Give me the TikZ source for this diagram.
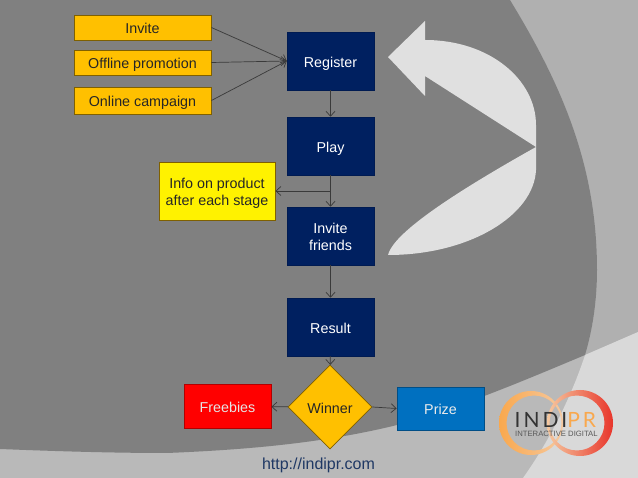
\documentclass[tikz,border=0pt]{standalone}
\usepackage{fontspec}
\setmainfont{Liberation Sans}
\newfontfamily\logofont[LetterSpace=14]{Lato}
\usetikzlibrary{arrows.meta,shapes.geometric}
\definecolor{darkbg}{HTML}{808080}
\definecolor{bandbg}{HTML}{B0B0B0}
\definecolor{stripbg}{HTML}{B9B9B9}
\definecolor{lightbg}{HTML}{D9D9D9}
\definecolor{swoosh}{HTML}{E0E0E0}
\definecolor{navy}{HTML}{002060}
\definecolor{amber}{HTML}{FFC000}
\definecolor{amberline}{HTML}{7F6000}
\definecolor{prizeblue}{HTML}{0070C0}
\definecolor{urlblue}{HTML}{1F3864}
\definecolor{conn}{HTML}{3A3A3A}
\definecolor{logoorange}{HTML}{F9A84D}
\definecolor{logored}{HTML}{E8352B}
\definecolor{logopale}{HTML}{F6C9A0}
\tikzset{
  basebox/.style={rectangle,inner sep=0pt,align=center,font=\fontsize{14.3}{17}\selectfont},
  oneline/.style={text height=15pt,text depth=2.5pt},
  darkbox/.style={basebox,fill=navy,draw=navy!85!black,line width=0.5pt,text=white,minimum width=87pt,minimum height=58pt},
  inputbox/.style={basebox,oneline,fill=amber,draw=amberline,line width=0.8pt,text=black!85,minimum width=137pt},
  link/.style={draw=conn,line width=0.7pt,-{Straight Barb[length=5pt,width=9pt]}},
}
\begin{document}
\begin{tikzpicture}[x=1pt,y=-1pt]
\useasboundingbox (0,0) rectangle (638,478);
% background
\fill[stripbg] (0,0) rectangle (638,478);
\fill[bandbg] (510,0) -- (638,0) -- (638,332) -- (585,355) .. controls (594,325) and (597,295) .. (597,270) .. controls (597,170) and (565,90) .. (510,0) -- cycle;
\fill[lightbg] (638,332) -- (638,478) -- (523,478) .. controls (550,440) and (572,395) .. (585,355) -- cycle;
\fill[darkbg] (0,0) -- (510,0) .. controls (565,90) and (597,170) .. (597,270) .. controls (597,295) and (594,325) .. (585,355)
  .. controls (530,378) and (460,408) .. (397,425) .. controls (320,444) and (240,450) .. (167,453) .. controls (110,453) and (50,451) .. (0,449) -- cycle;
% curved arrow shape
\fill[swoosh] (388,57) -- (425,21) -- (425,40) .. controls (490,40) and (536,80) .. (536,125) -- (536,147) -- (425,76) -- (425,96) -- cycle;
\fill[swoosh] (536,147) -- (536,170) .. controls (534,215) and (470,255) .. (388,255) .. controls (392,240) and (420,212) .. (536,147) -- cycle;
% nodes
\node[inputbox,minimum height=25pt] (invite) at (142.5,27.5) {Invite};
\node[inputbox,minimum height=25pt] (offline) at (142.5,62.5) {Offline promotion};
\node[inputbox,minimum height=27pt] (online) at (142.5,100.5) {Online campaign};
\node[darkbox,oneline] (register) at (330.5,61) {Register};
\node[darkbox,oneline] (play) at (330.5,146) {Play};
\node[darkbox] (friends) at (330.5,236) {\rule{0pt}{12.9pt}Invite\\friends};
\node[darkbox,oneline] (result) at (330.5,327) {Result};
\node[basebox,fill=yellow,draw=amberline,line width=0.8pt,text=black!85,minimum width=116pt,minimum height=58pt] (info) at (217,191) {\rule{0pt}{15.3pt}Info on product\\after each stage};
\node[basebox,oneline,diamond,aspect=1,fill=amber,draw=amberline,line width=0.8pt,text=black!85,minimum width=84pt,minimum height=84pt] (winner) at (330,407) {Winner};
\node[basebox,oneline,fill=red,draw=red!70!black,line width=0.8pt,text=white!90!black,minimum width=87pt,minimum height=44pt] (freebies) at (227.5,406.5) {Freebies};
\node[basebox,oneline,fill=prizeblue,draw=prizeblue!70!black,line width=0.8pt,text=white!92!black,minimum width=87pt,minimum height=43pt] (prize) at (440.5,408.5) {Prize};
\node[font=\fontsize{16}{18}\selectfont,text=urlblue,inner sep=0pt] (url) at (318.5,465) {http://indipr.com};
% connectors
\coordinate (branch) at (330.5,191);
\draw[link] (invite.east) -- (register.west);
\draw[link] (offline.east) -- (register.west);
\draw[link] (online.east) -- (register.west);
\draw[link] (register) -- (play);
\draw[link] (play) -- (friends);
\draw[link] (friends) -- (result);
\draw[link] (result) -- (winner);
\draw[link] (branch) -- (info.east);
\draw[link] (winner) -- (freebies);
\draw[link] (winner.east) -- (prize.west);
% logo
\shade[even odd rule,left color=logoorange,right color=logopale]
  (531,423) circle[radius=32] (534,423) circle[radius=27.5];
\shade[even odd rule,left color=logopale,right color=logored]
  (580,423) circle[radius=33] (577,423) circle[radius=27.5];
\node[inner sep=0pt,anchor=base west,font=\logofont\fontsize{21}{22}\selectfont,text=black!80] (logoa) at (514.5,427.5) {INDI\textcolor{logoorange}{PR}};
\node[inner sep=0pt,anchor=base west,font=\fontsize{7.7}{8}\selectfont,text=black!65] (logob) at (515,437) {INTERACTIVE DIGITAL};
\end{tikzpicture}
\end{document}
